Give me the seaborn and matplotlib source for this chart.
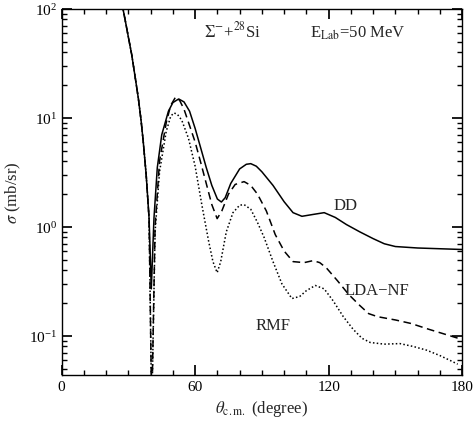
import numpy as np
import matplotlib
matplotlib.use("Agg")
import matplotlib.pyplot as plt
import seaborn as sns
from matplotlib.ticker import MultipleLocator, LogLocator, NullFormatter

sns.set_theme(style="ticks")
plt.rcParams['font.family'] = ['Liberation Serif', 'DejaVu Serif']
plt.rcParams['mathtext.fontset'] = 'stix'

fwd_x = [27, 28.5, 30, 31.5, 33, 34.5, 35.7, 36.7, 38, 39.3]
fwd_y = [115, 80, 55, 38, 24, 15, 9.5, 6, 3, 1.2]

dd_x = fwd_x + [40.3, 41.5, 43, 45, 48, 50, 52.6, 55, 57.5, 60, 62.5, 65, 67.5, 70, 71.8, 73.5, 76, 80, 83, 85, 87.5, 90, 95, 100, 104, 108, 113, 118, 123, 128, 134, 140, 145, 150, 160, 170, 180]
dd_y = fwd_y + [0.27, 1.2, 3.5, 7, 11.5, 13.8, 14.9, 14, 11.5, 8, 5.3, 3.5, 2.4, 1.8, 1.69, 1.85, 2.5, 3.4, 3.75, 3.8, 3.6, 3.2, 2.4, 1.7, 1.35, 1.25, 1.3, 1.35, 1.22, 1.05, 0.9, 0.78, 0.7, 0.66, 0.64, 0.63, 0.62]
lda_x = fwd_x + [40.5, 42, 44, 47, 49, 51.2, 53, 55, 57.5, 60, 62.5, 65, 67.5, 69.9, 72, 75, 78, 82, 85, 88, 92, 96, 100, 104, 109, 113, 116, 119, 124, 129, 134, 138, 142, 150, 157, 165, 172, 179]
lda_y = fwd_y + [0.02, 1.0, 4, 9, 13, 15.5, 14.5, 12, 8.5, 6, 3.9, 2.5, 1.6, 1.19, 1.4, 2.0, 2.45, 2.6, 2.4, 2.0, 1.4, 0.85, 0.6, 0.48, 0.47, 0.49, 0.47, 0.42, 0.32, 0.24, 0.19, 0.16, 0.15, 0.14, 0.13, 0.115, 0.104, 0.094]
rmf_x = fwd_x + [40.5, 42, 44, 47, 49, 50.4, 52, 54, 57, 60, 63, 66, 68, 69.9, 71.5, 74, 77, 80, 82, 85, 88, 91, 95, 99, 103.5, 107, 110, 114, 118, 122, 126.6, 131, 135, 138.7, 145, 152, 158, 164, 170, 175, 178]
rmf_y = fwd_y + [0.02, 0.9, 3.2, 7.5, 10.3, 11.1, 10.8, 9.5, 6.5, 3.6, 1.6, 0.75, 0.48, 0.38, 0.48, 0.9, 1.35, 1.58, 1.6, 1.45, 1.1, 0.8, 0.48, 0.3, 0.22, 0.23, 0.26, 0.29, 0.27, 0.21, 0.15, 0.115, 0.095, 0.087, 0.084, 0.085, 0.08, 0.074, 0.066, 0.059, 0.055]

fig, ax = plt.subplots(figsize=(4.74, 4.27), dpi=100)
fig.subplots_adjust(left=0.13, right=0.975, bottom=0.12, top=0.977)
sns.lineplot(x=dd_x, y=dd_y, ax=ax, color='black', lw=1.1, sort=False)
sns.lineplot(x=lda_x, y=lda_y, ax=ax, color='black', lw=1.1, linestyle=(0, (5, 3)), sort=False)
sns.lineplot(x=rmf_x, y=rmf_y, ax=ax, color='black', lw=1.1, linestyle=(0, (1, 1.5)), sort=False)
ax.set_yscale('log')
ax.set_xlim(0, 180)
ax.set_ylim(0.044, 100)
ax.xaxis.set_major_locator(MultipleLocator(60))
ax.xaxis.set_minor_locator(MultipleLocator(10))
ax.yaxis.set_major_locator(LogLocator(base=10))
ax.yaxis.set_minor_locator(LogLocator(base=10, subs=np.arange(2, 10)))
ax.yaxis.set_minor_formatter(NullFormatter())
ax.tick_params(which='both', direction='in', top=True, right=True, colors='black', labelsize=11)
ax.tick_params(which='major', length=7)
ax.tick_params(which='minor', length=3.5)
for s in ax.spines.values():
    s.set_color('black'); s.set_linewidth(1)
ax.set_xlabel(r'$\theta_{\rm c.m.}$ (degree)', fontsize=12)
ax.set_ylabel(r'$\sigma$ (mb/sr)', fontsize=12)
ax.text(0.355, 0.925, r'$\Sigma^{-}$+$^{28}$Si', transform=ax.transAxes, fontsize=12)
ax.text(0.62, 0.925, r'E$_{\rm Lab}$=50 MeV', transform=ax.transAxes, fontsize=12)
ax.text(122, 1.45, 'DD', fontsize=12)
ax.text(127, 0.24, 'LDA\u2212NF', fontsize=12)
ax.text(87, 0.115, 'RMF', fontsize=12)
fig.savefig('out.png', dpi=100)
